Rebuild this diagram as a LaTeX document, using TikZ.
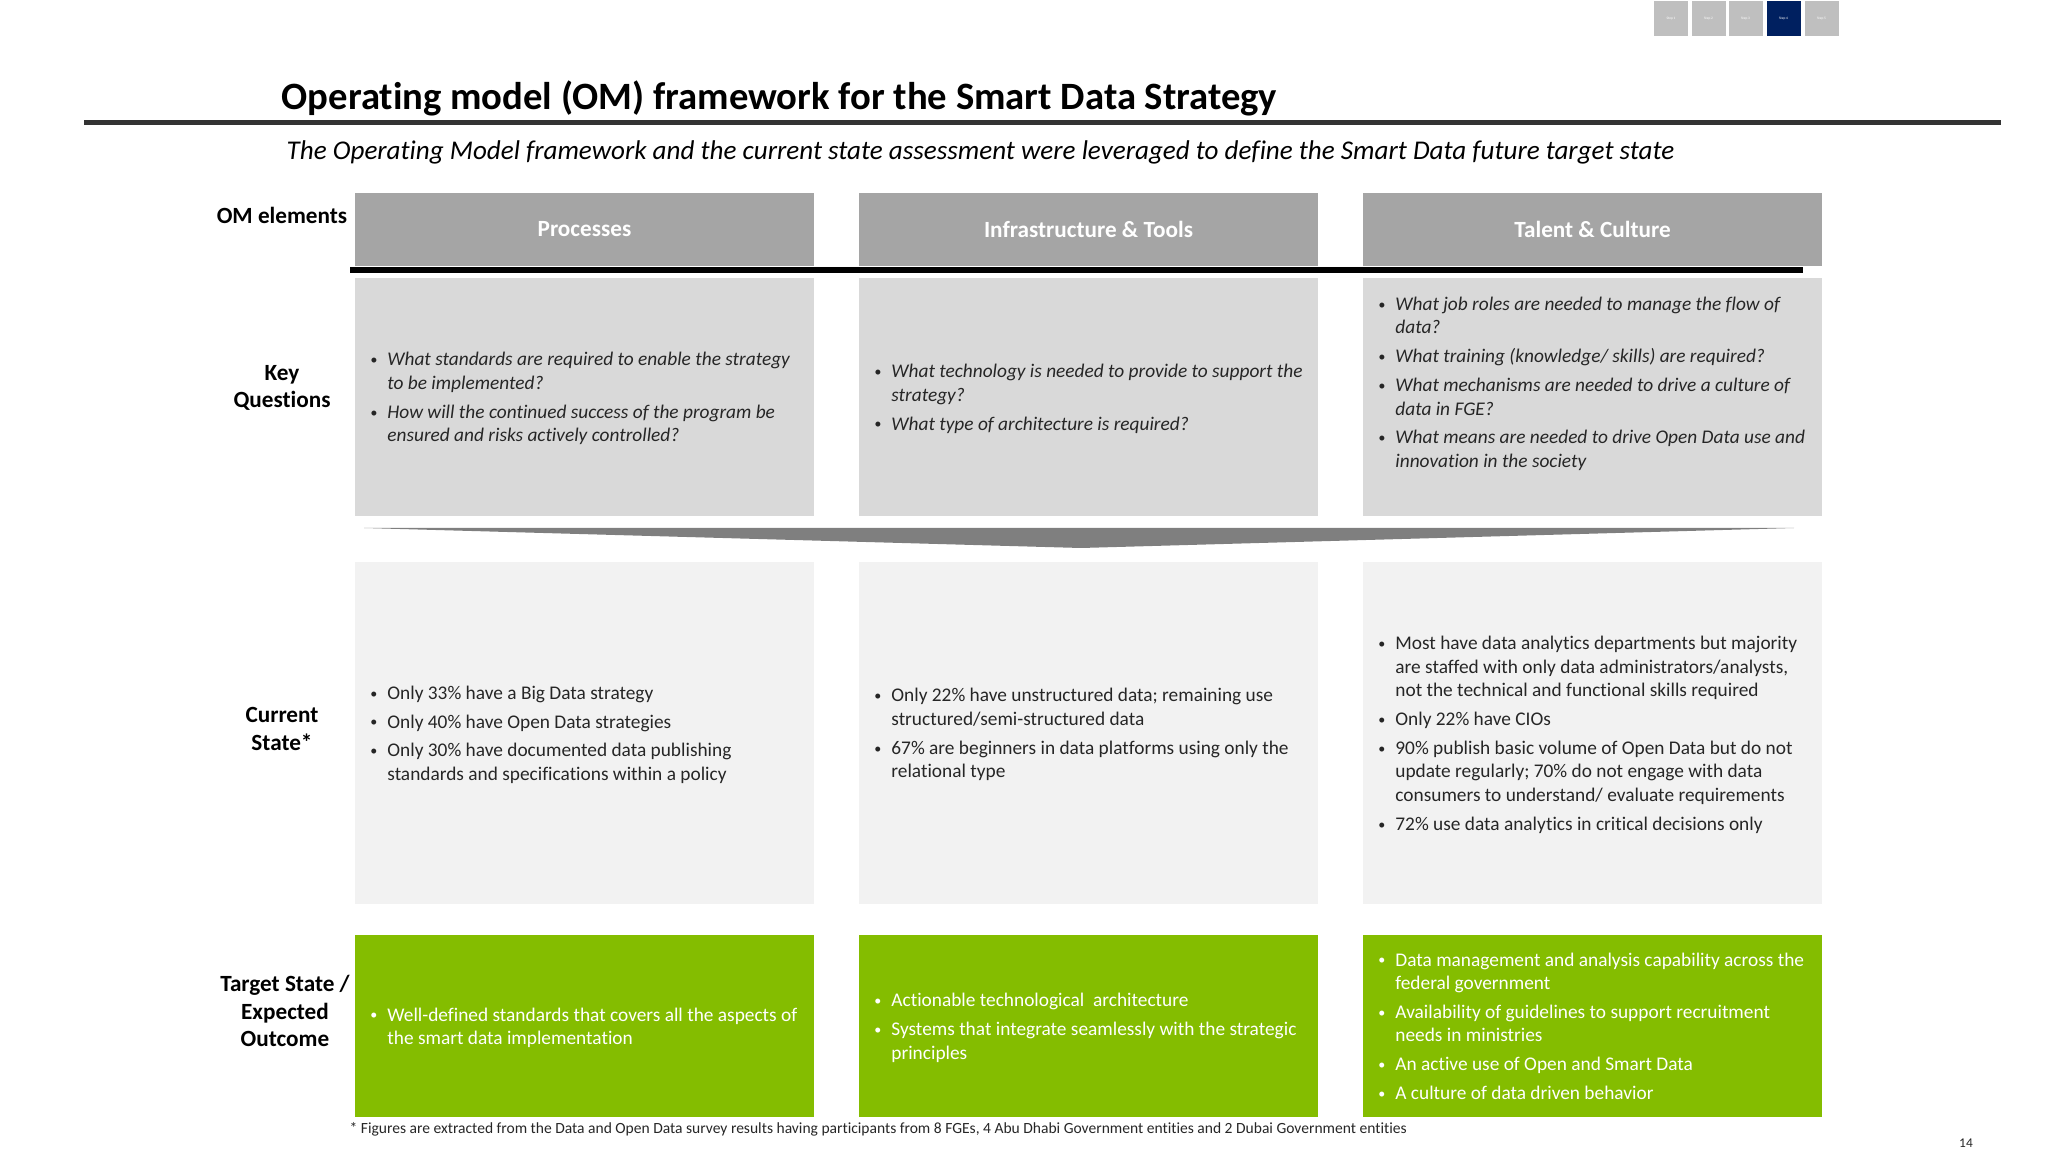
\documentclass[tikz,border=0pt]{standalone}
\usepackage{fontspec}
\setmainfont{Carlito}[Ligatures=NoCommon]
\definecolor{headgray}{HTML}{A5A5A5}
\definecolor{keygray}{HTML}{D9D9D9}
\definecolor{curgray}{HTML}{F2F2F2}
\definecolor{targetgreen}{HTML}{84BD00}
\definecolor{arrowgray}{HTML}{7F7F7F}
\definecolor{thumbgray}{HTML}{BFBFBF}
\definecolor{thumbblue}{HTML}{002060}
\definecolor{bodytext}{HTML}{262626}
\newcommand{\ombullet}[1]{\par\hangindent=4.84pt\hangafter=1\noindent\hbox to 4.84pt{\raisebox{0.35pt}{\fontsize{4}{4}\selectfont\textbullet}\hfil}#1\par}
\tikzset{
  headbox/.style={fill=headgray,text=white,minimum width=4.58cm,minimum height=0.72cm,font=\fontsize{6.6}{7.5}\selectfont\bfseries,inner sep=0pt},
  listbox/.style={minimum width=4.58cm,text width=4.28cm,inner xsep=0.15cm,inner ysep=0pt,align=flush left,
    execute at begin node={\setlength{\parskip}{1.5pt}},
    execute at end node={\par\vspace{0.12cm}}},
  keybox/.style={listbox,fill=keygray,text=bodytext,minimum height=2.38cm,font=\fontsize{5.5}{6.7}\selectfont\itshape},
  curbox/.style={listbox,fill=curgray,text=bodytext,minimum height=3.42cm,font=\fontsize{5.5}{6.7}\selectfont},
  targetbox/.style={listbox,fill=targetgreen,text=white,minimum height=1.82cm,font=\fontsize{5.5}{6.7}\selectfont},
  rowlabel/.style={align=center,inner sep=0pt,font=\fontsize{6.6}{7.85}\selectfont\bfseries},
  thumb/.style={fill=thumbgray,text=white,minimum width=0.34cm,minimum height=0.35cm,inner sep=0pt,font=\fontsize{1}{1.2}\selectfont}
}
\begin{document}
\begin{tikzpicture}[x=0.01cm,y=-0.01cm]
\useasboundingbox (0,0) rectangle (2048,1152);

\node[thumb] (step1) at (1671,18.5) {Step 1};
\node[thumb] (step2) at (1708.5,18.5) {Step 2};
\node[thumb] (step3) at (1745.5,18.5) {Step 3};
\node[thumb,fill=thumbblue] (step4) at (1783.5,18.5) {Step 4};
\node[thumb] (step5) at (1821.5,18.5) {Step 5};

\node[anchor=west,inner sep=0pt,font=\fontsize{11}{13}\selectfont\bfseries] (title) at (281,98) {Operating model (OM) framework for the Smart Data Strategy};
\draw[line width=1.3pt,black!80] (84,122.5)--(2001,122.5);
\node[anchor=west,inner sep=0pt,font=\fontsize{7.7}{9}\selectfont\itshape] (subtitle) at (286,152) {The Operating Model framework and the current state assessment were leveraged to define the Smart Data future target state};

\node[rowlabel] (omlabel) at (282,215) {OM elements};
\node[rowlabel] (keylabel) at (282,388) {Key\\Questions};
\node[rowlabel] (curlabel) at (282,729) {Current\\State*};
\node[rowlabel] (targetlabel) at (285,1011) {Target State /\\Expected\\Outcome};

\node[headbox] (head1) at (584.5,229.5) {Processes};
\node[headbox] (head2) at (1088.5,229.5) {Infrastructure \& Tools};
\node[headbox] (head3) at (1592.5,229.5) {Talent \& Culture};
\draw[line width=1.6pt,black] (350,270)--(1803,270);

\node[keybox] (key1) at (584.5,397) {
  \ombullet{What standards are required to enable the strategy\newline to be implemented?}
  \ombullet{How will the continued success of the program be\newline ensured and risks actively controlled?}};
\node[keybox] (key2) at (1088.5,397) {
  \ombullet{What technology is needed to provide to support the\newline strategy?}
  \ombullet{What type of architecture is required?}};
\node[keybox] (key3) at (1592.5,397) {
  \ombullet{What job roles are needed to manage the flow of\newline data?}
  \ombullet{What training (knowledge/ skills) are required?}
  \ombullet{What mechanisms are needed to drive a culture of\newline data in FGE?}
  \ombullet{What means are needed to drive Open Data use and\newline innovation in the society}
  \vspace{0.3cm}};

\fill[arrowgray] (364,528)--(1794,528)--(1081,548)--cycle;

\node[curbox] (cur1) at (584.5,733) {
  \ombullet{Only 33\% have a Big Data strategy}
  \ombullet{Only 40\% have Open Data strategies}
  \ombullet{Only 30\% have documented data publishing\newline standards and specifications within a policy}};
\node[curbox] (cur2) at (1088.5,733) {
  \ombullet{Only 22\% have unstructured data; remaining use\newline structured/semi-structured data}
  \ombullet{67\% are beginners in data platforms using only the\newline relational type}};
\node[curbox] (cur3) at (1592.5,733) {
  \ombullet{Most have data analytics departments but majority\newline are staffed with only data administrators/analysts,\newline not the technical and functional skills required}
  \ombullet{Only 22\% have CIOs}
  \ombullet{90\% publish basic volume of Open Data but do not\newline update regularly; 70\% do not engage with data\newline consumers to understand/ evaluate requirements}
  \ombullet{72\% use data analytics in critical decisions only}};

\node[targetbox] (target1) at (584.5,1026) {
  \ombullet{Well-defined standards that covers all the aspects of\newline the smart data implementation}};
\node[targetbox] (target2) at (1088.5,1026) {
  \ombullet{Actionable technological\ \ architecture}
  \ombullet{Systems that integrate seamlessly with the strategic\newline principles}};
\node[targetbox] (target3) at (1592.5,1026) {
  \ombullet{Data management and analysis capability across the\newline federal government}
  \ombullet{Availability of guidelines to support recruitment\newline needs in ministries}
  \ombullet{An active use of Open and Smart Data}
  \ombullet{A culture of data driven behavior}
  \vspace{0.03cm}};

\node[anchor=west,inner sep=0pt,text=bodytext,font=\fontsize{4.42}{5}\selectfont] (footnote) at (349,1129) {* Figures are extracted from the Data and Open Data survey results having participants from 8 FGEs, 4 Abu Dhabi Government entities and 2 Dubai Government entities};
\node[inner sep=0pt,text=bodytext,font=\fontsize{3.8}{5}\selectfont] (pagenum) at (1966,1143) {14};
\end{tikzpicture}
\end{document}
